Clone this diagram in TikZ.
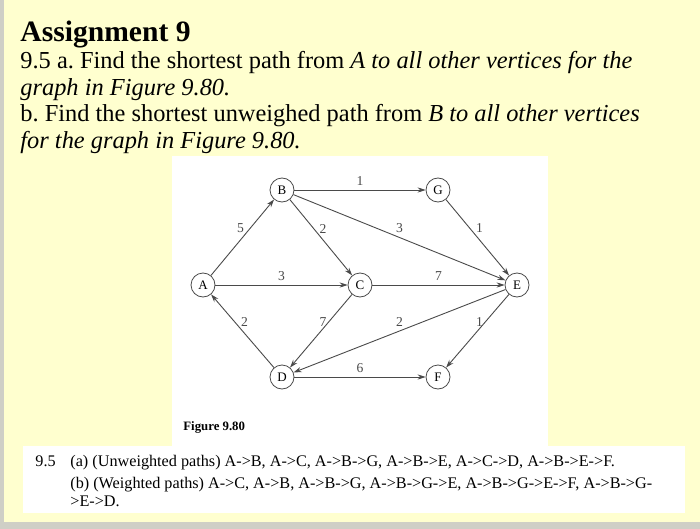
\documentclass[tikz,border=0pt]{standalone}
\usepackage{fontspec}
\setmainfont{Liberation Serif}
\usetikzlibrary{arrows.meta}
\definecolor{pageyellow}{HTML}{FFFFCF}
\definecolor{edgegray}{HTML}{4A4A4A}
\definecolor{stripgray}{HTML}{CFCFC6}
\frenchspacing

\begin{document}
\begin{tikzpicture}[x=0.5pt, y=-0.5pt, >={Stealth[length=4pt,width=2.6pt]},
  vtx/.style={draw=edgegray, circle, minimum size=12pt, inner sep=0pt, font=\fontsize{6.5}{7}\selectfont},
  wt/.style={midway, yshift=4.5pt, inner sep=0pt, font=\fontsize{6.8}{7}\selectfont},
  arc/.style={->, edgegray, line width=0.45pt},
  qline/.style={anchor=base west, inner sep=0pt, font=\fontsize{12.2}{14}\selectfont},
  aline/.style={anchor=base west, inner sep=0pt, font=\fontsize{8.1}{9}\selectfont}]
  \useasboundingbox (0,0) rectangle (700,529);
  \fill[pageyellow] (0,0) rectangle (700,529);
  \fill[stripgray] (0,0) rectangle (4,529);
  \fill[stripgray] (0,522) rectangle (700,529);
  \fill[white] (172,156) rectangle (548,446);
  \fill[white] (23,446) rectangle (685,513);

  % question
  \node[anchor=base west, inner sep=0pt, font=\fontsize{14.8}{16}\selectfont\bfseries] (title) at (20,42) {Assignment 9};
  \node[qline] (qa1) at (20,69) {9.5 a. Find the shortest path from \textit{A to all other vertices for the}};
  \node[qline] (qa2) at (20,96) {\textit{graph in Figure 9.80.}};
  \node[qline] (qb1) at (20,122) {b. Find the shortest unweighed path from \textit{B to all other vertices}};
  \node[qline] (qb2) at (20,149) {\textit{for the graph in Figure 9.80.}};

  % graph
  \node[vtx] (A) at (203,285) {A};
  \node[vtx] (B) at (282,190) {B};
  \node[vtx] (G) at (438,190) {G};
  \node[vtx] (C) at (360,285) {C};
  \node[vtx] (E) at (517,285) {E};
  \node[vtx] (D) at (282,377) {D};
  \node[vtx] (F) at (438,377) {F};

  \draw[arc] (A) -- (B) node[wt, xshift=-1pt] {5};
  \draw[arc] (B) -- (G) node[wt] {1};
  \draw[arc] (B) -- (C) node[wt, xshift=1pt] {2};
  \draw[arc] (B) -- (E) node[wt] {3};
  \draw[arc] (G) -- (E) node[wt, xshift=1pt] {1};
  \draw[arc] (A) -- (C) node[wt] {3};
  \draw[arc] (C) -- (E) node[wt] {7};
  \draw[arc] (D) -- (A) node[wt, xshift=1pt] {2};
  \draw[arc] (C) -- (D) node[wt, xshift=1pt] {7};
  \draw[arc] (E) -- (D) node[wt] {2};
  \draw[arc] (E) -- (F) node[wt, xshift=1pt] {1};
  \draw[arc] (D) -- (F) node[wt] {6};

  \node[anchor=base west, inner sep=0pt, font=\fontsize{6.4}{7}\selectfont\bfseries] (cap) at (183,430) {Figure 9.80};

  % answer
  \node[aline] (n95) at (35,466) {9.5};
  \node[aline] (ansa) at (70,466) {(a) (Unweighted paths) A->B, A->C, A->B->G, A->B->E, A->C->D, A->B->E->F.};
  \node[aline] (ansb1) at (70,488) {(b) (Weighted paths) A->C, A->B, A->B->G, A->B->G->E, A->B->G->E->F, A->B->G-};
  \node[aline] (ansb2) at (70,506) {>E->D.};
\end{tikzpicture}
\end{document}
